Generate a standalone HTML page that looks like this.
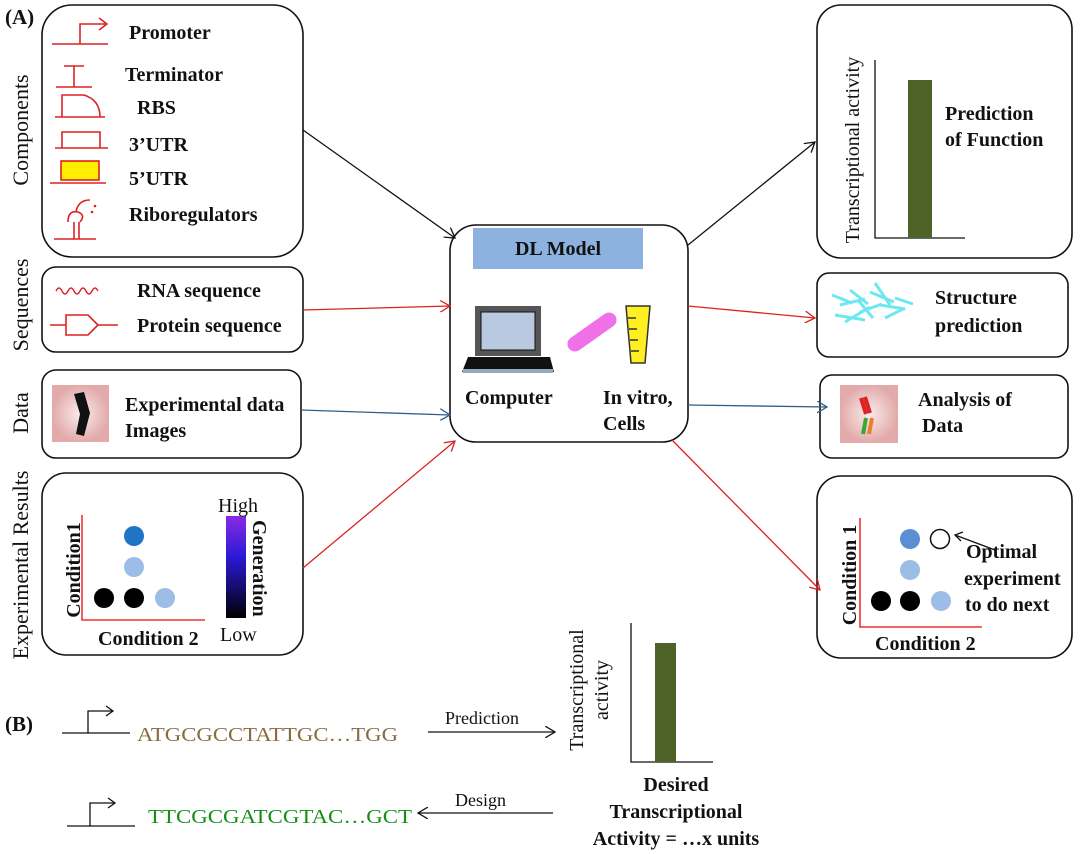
<!DOCTYPE html>
<html><head><meta charset="utf-8"><style>
html,body{margin:0;padding:0;background:#fff}
svg{display:block}
</style></head><body>
<svg width="1080" height="854" viewBox="0 0 1080 854" xmlns="http://www.w3.org/2000/svg" font-family="Liberation Serif, serif" font-weight="bold" font-size="20" fill="#111">
<defs>
<marker id="ak" markerWidth="12" markerHeight="12" refX="10" refY="6" orient="auto" markerUnits="userSpaceOnUse"><path d="M0,0 L10,6 L0,12" fill="none" stroke="#111" stroke-width="1.3"/></marker>
<marker id="ar" markerWidth="12" markerHeight="12" refX="10" refY="6" orient="auto" markerUnits="userSpaceOnUse"><path d="M0,0 L10,6 L0,12" fill="none" stroke="#d22" stroke-width="1.3"/></marker>
<marker id="ab" markerWidth="12" markerHeight="12" refX="10" refY="6" orient="auto" markerUnits="userSpaceOnUse"><path d="M0,0 L10,6 L0,12" fill="none" stroke="#2e5f8a" stroke-width="1.3"/></marker>
<linearGradient id="gen" x1="0" y1="0" x2="0" y2="1"><stop offset="0" stop-color="#8a2be2"/><stop offset="0.4" stop-color="#2a1ad8"/><stop offset="1" stop-color="#000"/></linearGradient>
<radialGradient id="pink"><stop offset="0" stop-color="#fbecec"/><stop offset="1" stop-color="#e2aaaa"/></radialGradient>
</defs>
<g fill="none" stroke="#111" stroke-width="1.6">
<rect x="42" y="5" width="261" height="252" rx="30"/>
<rect x="42" y="267" width="261" height="85" rx="14"/>
<rect x="42" y="370" width="259" height="88" rx="14"/>
<rect x="42" y="473" width="261" height="182" rx="24"/>
<rect x="450" y="225" width="238" height="217" rx="26"/>
<rect x="817" y="5" width="255" height="253" rx="24"/>
<rect x="817" y="273" width="251" height="84" rx="12"/>
<rect x="820" y="375" width="248" height="83" rx="12"/>
<rect x="817" y="476" width="255" height="182" rx="24"/>
</g>
<text x="5" y="24" font-size="21">(A)</text>
<text transform="translate(28,130) rotate(-90)" text-anchor="middle" font-weight="normal" font-size="22">Components</text>
<text transform="translate(28,305) rotate(-90)" text-anchor="middle" font-weight="normal" font-size="22">Sequences</text>
<text transform="translate(28,413) rotate(-90)" text-anchor="middle" font-weight="normal" font-size="22">Data</text>
<text transform="translate(28,565) rotate(-90)" text-anchor="middle" font-weight="normal" font-size="22">Experimental Results</text>
<g stroke="#d22" stroke-width="1.6" fill="none">
<path d="M52,44 H108 M80,44 V24 H105 M99,18 L107,24 L99,30"/>
<path d="M56,87 H92 M74,87 V66 M64,66 H84"/>
<path d="M55,117 H105 M62,117 V95 H84 Q100,100 100,117"/>
<path d="M55,148 H108 M62,148 V132 H100 V148"/>
<path d="M50,183 H106"/>
<path d="M54,239 H96 M74,239 V222 M79,239 V222 M68,222 Q68,210 78,212 Q86,215 80,222 M76,212 Q78,200 90,200"/>
</g>
<rect x="61" y="161" width="38" height="19" fill="#ffee00" stroke="#d22" stroke-width="1.6"/>
<circle cx="95" cy="206" r="1.3" fill="#d22"/><circle cx="92" cy="212" r="1.3" fill="#d22"/>
<text x="129" y="39">Promoter</text>
<text x="125" y="81">Terminator</text>
<text x="137" y="114">RBS</text>
<text x="129" y="151">3’UTR</text>
<text x="129" y="185">5’UTR</text>
<text x="129" y="221">Riboregulators</text>
<path d="M56,291 q3,-6 6,0 t6,0 t6,0 t6,0 t6,0 t6,0 t6,0" stroke="#d22" stroke-width="1.4" fill="none"/>
<path d="M50,325 H66 M66,315 H88 L98,325 L88,335 H66 Z M98,325 H118" stroke="#d22" stroke-width="1.6" fill="none"/>
<text x="137" y="297">RNA sequence</text>
<text x="137" y="332">Protein sequence</text>
<rect x="52" y="385" width="57" height="57" fill="url(#pink)"/>
<path d="M74,394 L84,392 L90,413 L84,436 L76,434 L80,414 Z" fill="#111"/>
<text x="125" y="411">Experimental data</text>
<text x="125" y="437">Images</text>
<path d="M82,515 V620 H205" stroke="#e33" stroke-width="1.6" fill="none"/>
<text transform="translate(80,570) rotate(-90)" text-anchor="middle">Condition1</text>
<circle cx="134" cy="536" r="10" fill="#1f74c4"/>
<circle cx="134" cy="567" r="10" fill="#9cbde6"/>
<circle cx="104" cy="598" r="10" fill="#000"/>
<circle cx="134" cy="598" r="10" fill="#000"/>
<circle cx="165" cy="598" r="10" fill="#9cbde6"/>
<text x="98" y="645">Condition 2</text>
<rect x="226" y="516" width="20" height="102" fill="url(#gen)"/>
<text x="218" y="512" font-weight="normal">High</text>
<text x="220" y="641" font-weight="normal">Low</text>
<text transform="translate(253,520) rotate(90)">Generation</text>
<rect x="473" y="228" width="170" height="41" fill="#8db2e0"/>
<text x="558" y="255" text-anchor="middle">DL Model</text>
<rect x="475" y="306" width="66" height="50" fill="#555"/>
<rect x="481" y="312" width="54" height="38" fill="#b9c9e0" stroke="#111"/>
<path d="M468,357 H550 L554,372 H462 Z" fill="#111"/>
<rect x="463" y="369" width="90" height="4" fill="#9ab"/>
<line x1="575" y1="344" x2="609" y2="320" stroke="#f070e8" stroke-width="15" stroke-linecap="round"/>
<path d="M626,306 H650 L645,363 H631 Z" fill="#ffee22" stroke="#333" stroke-width="1.5"/>
<path d="M628,318 h8 M629,329 h8 M630,340 h8 M631,351 h8" stroke="#333" stroke-width="1.5"/>
<text x="465" y="404">Computer</text>
<text x="603" y="404">In vitro,</text>
<text x="603" y="430">Cells</text>
<line x1="303" y1="130" x2="455" y2="238" stroke="#111" stroke-width="1.3" marker-end="url(#ak)"/>
<line x1="303" y1="310" x2="450" y2="306" stroke="#d22" stroke-width="1.3" marker-end="url(#ar)"/>
<line x1="301" y1="410" x2="450" y2="415" stroke="#2e5f8a" stroke-width="1.3" marker-end="url(#ab)"/>
<line x1="303" y1="568" x2="455" y2="441" stroke="#d22" stroke-width="1.3" marker-end="url(#ar)"/>
<line x1="688" y1="245" x2="815" y2="142" stroke="#111" stroke-width="1.3" marker-end="url(#ak)"/>
<line x1="688" y1="306" x2="815" y2="318" stroke="#d22" stroke-width="1.3" marker-end="url(#ar)"/>
<line x1="688" y1="405" x2="827" y2="407" stroke="#2e5f8a" stroke-width="1.3" marker-end="url(#ab)"/>
<line x1="672" y1="440" x2="820" y2="590" stroke="#d22" stroke-width="1.3" marker-end="url(#ar)"/>
<path d="M875,60 V238 H965" stroke="#111" stroke-width="1.3" fill="none"/>
<rect x="908" y="80" width="24" height="158" fill="#4f6228"/>
<text transform="translate(859,150) rotate(-90)" text-anchor="middle" font-weight="normal">Transcriptional activity</text>
<text x="945" y="120">Prediction</text>
<text x="945" y="146">of Function</text>
<g stroke="#6ee8f0" stroke-width="3">
<path d="M832,295 l20,8 M840,305 l25,-6 M850,290 l18,14 M860,312 l22,-8 M835,315 l30,5 M870,292 l24,10 M880,305 l25,4 M858,300 l15,18 M885,318 l20,-10 M845,322 l25,-15 M875,283 l15,22 M895,298 l18,6"/>
</g>
<text x="935" y="304">Structure</text>
<text x="935" y="332">prediction</text>
<rect x="840" y="385" width="58" height="58" fill="url(#pink)"/>
<path d="M861,398 l5,16 M865,397 l5,16" stroke="#d22" stroke-width="4"/>
<path d="M866,418 l-3,16" stroke="#3a3" stroke-width="4"/>
<path d="M872,418 l-3,16" stroke="#e8802a" stroke-width="4"/>
<text x="918" y="406">Analysis of</text>
<text x="922" y="432">Data</text>
<path d="M860,518 V627 H982" stroke="#e33" stroke-width="1.6" fill="none"/>
<text transform="translate(856,575) rotate(-90)" text-anchor="middle">Condition 1</text>
<circle cx="910" cy="539" r="10" fill="#5a8fd6"/>
<circle cx="940" cy="539" r="9.5" fill="none" stroke="#111" stroke-width="1.5"/>
<circle cx="910" cy="570" r="10" fill="#9cbde6"/>
<circle cx="881" cy="601" r="10" fill="#000"/>
<circle cx="910" cy="601" r="10" fill="#000"/>
<circle cx="941" cy="601" r="10" fill="#9cbde6"/>
<path d="M995,550 L955,535 M963,532 L955,535 L961,541" stroke="#111" stroke-width="1.3" fill="none"/>
<text x="966" y="558">Optimal</text>
<text x="964" y="585">experiment</text>
<text x="965" y="611">to do next</text>
<text x="875" y="650">Condition 2</text>
<text x="5" y="731" font-size="21">(B)</text>
<path d="M62,733 H130 M88,733 V711 H112 M106,706 L113,711 L106,716" stroke="#111" stroke-width="1.3" fill="none"/>
<text x="137" y="741" font-weight="normal" fill="#8a6a40" textLength="261" lengthAdjust="spacingAndGlyphs">ATGCGCCTATTGC…TGG</text>
<line x1="428" y1="732" x2="555" y2="732" stroke="#111" stroke-width="1.3" marker-end="url(#ak)"/>
<text x="445" y="724" font-weight="normal" font-size="18">Prediction</text>
<path d="M631,623 V762 H713" stroke="#111" stroke-width="1.3" fill="none"/>
<rect x="655" y="643" width="21" height="119" fill="#4f6228"/>
<text transform="translate(583,690) rotate(-90)" text-anchor="middle" font-weight="normal">Transcriptional</text>
<text transform="translate(608,690) rotate(-90)" text-anchor="middle" font-weight="normal">activity</text>
<text x="676" y="791" text-anchor="middle">Desired</text>
<text x="676" y="818" text-anchor="middle">Transcriptional</text>
<text x="676" y="845" text-anchor="middle">Activity = …x units</text>
<path d="M67,826 H135 M90,826 V803 H114 M108,798 L115,803 L108,808" stroke="#111" stroke-width="1.3" fill="none"/>
<text x="148" y="823" font-weight="normal" fill="#159015" textLength="264" lengthAdjust="spacingAndGlyphs">TTCGCGATCGTAC…GCT</text>
<line x1="553" y1="813" x2="418" y2="813" stroke="#111" stroke-width="1.3" marker-end="url(#ak)"/>
<text x="455" y="806" font-weight="normal" font-size="18">Design</text>
</svg>
</body></html>
